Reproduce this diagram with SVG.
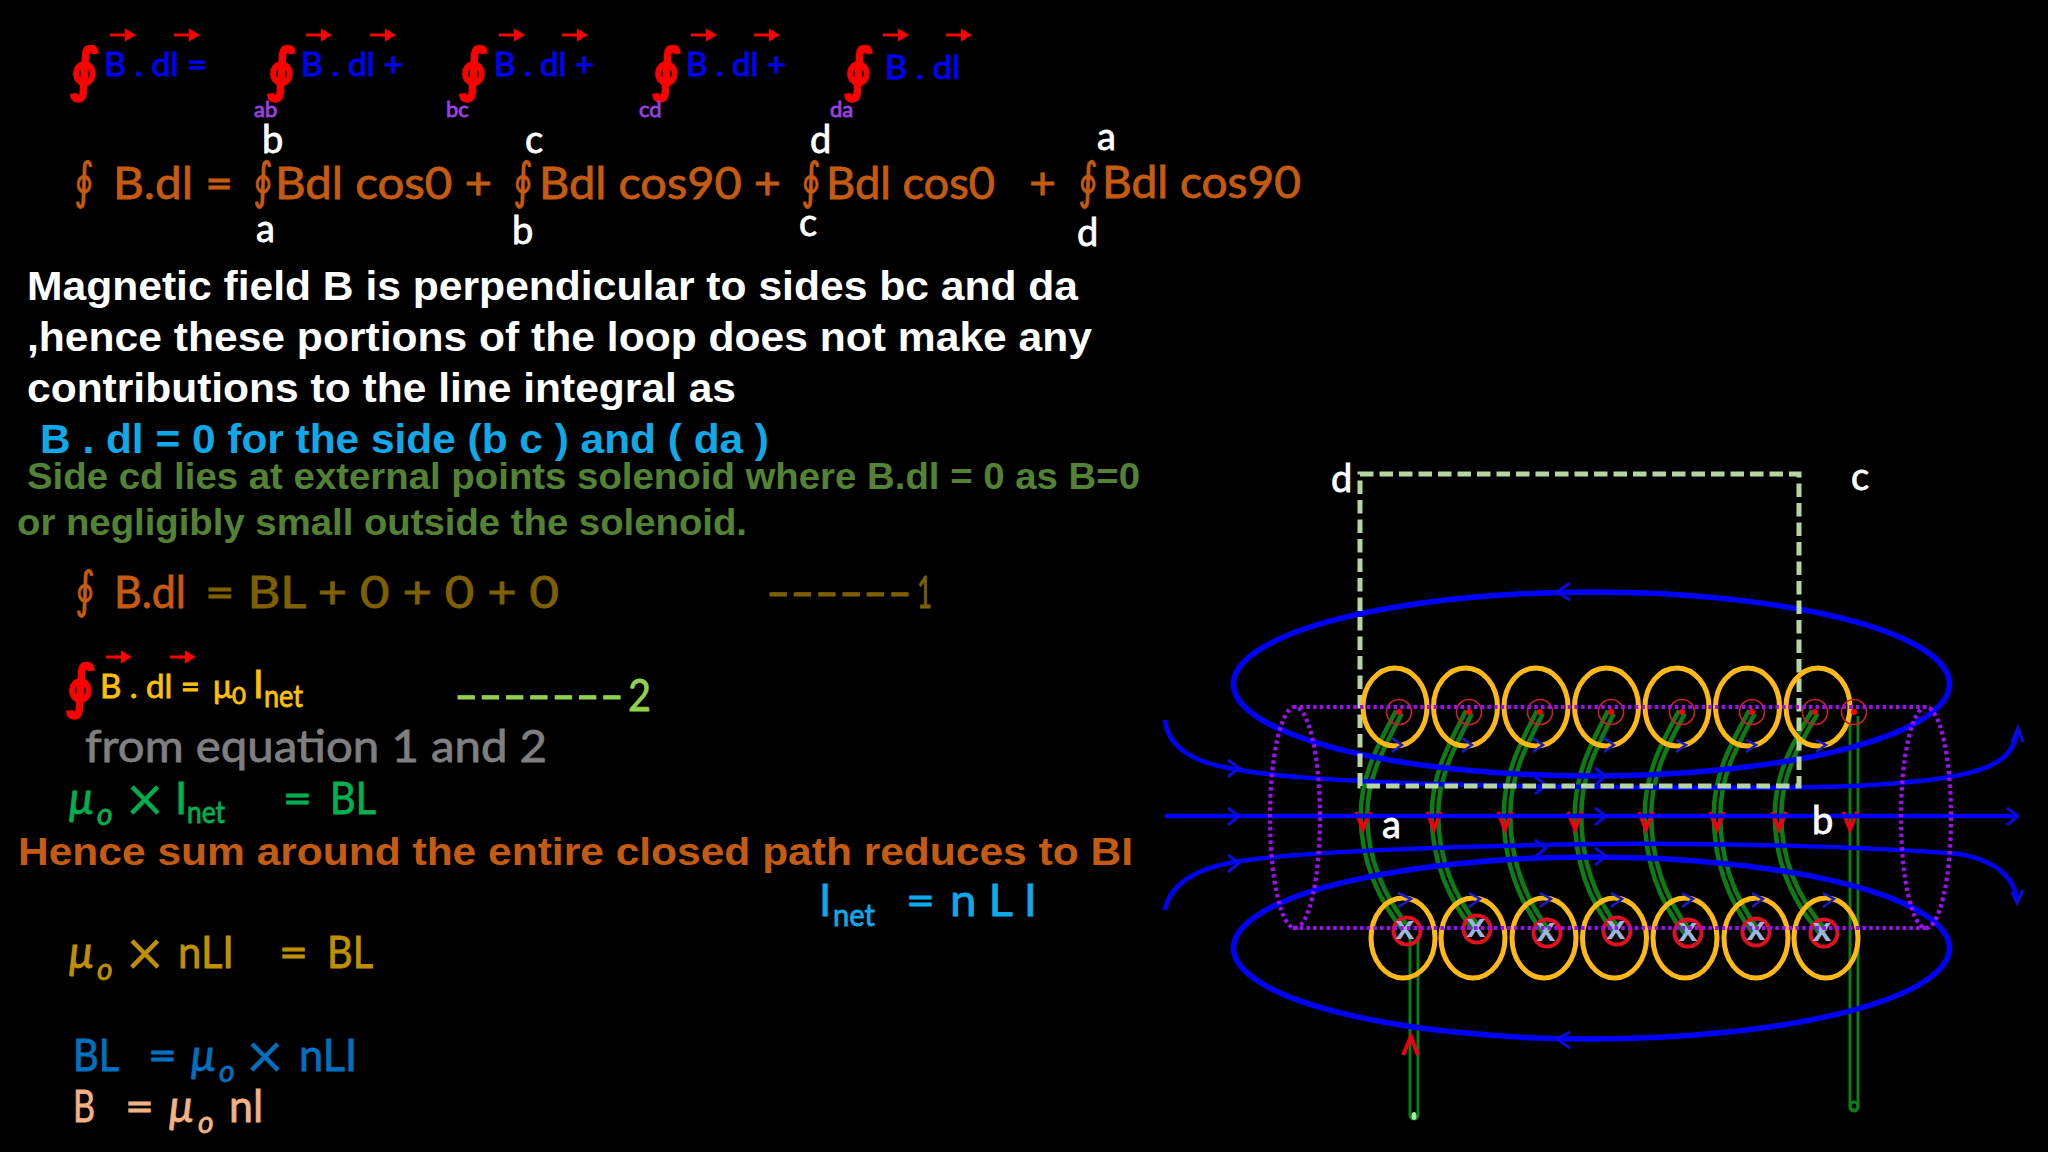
<svg xmlns="http://www.w3.org/2000/svg" width="2048" height="1152" viewBox="0 0 2048 1152">
<style>
text{font-family:"Lato","Noto Sans",sans-serif;stroke-width:.8}
.a{font-family:"Liberation Sans",Arial,sans-serif;font-weight:700;stroke-width:0}
.i{font-family:"DejaVu Sans",sans-serif;font-size:50px;stroke-width:.6}
.ir{font-family:"DejaVu Sans",sans-serif;font-weight:700;font-size:58px;fill:#f00;stroke:#f00;stroke-width:1.2}
.m{font-style:italic}
.w{fill:#fff;stroke:#fff}.bl{fill:#00f;stroke:#00f}.or{fill:#c55a11;stroke:#c55a11}.ol{fill:#7f6000;stroke:#7f6000}
.ye{fill:#ffc000;stroke:#ffc000}.lg{fill:#92d050;stroke:#92d050}.gy{fill:#7f7f7f;stroke:#7f7f7f}.gn{fill:#00b050;stroke:#00b050}
.go{fill:#bf9000;stroke:#bf9000}.db{fill:#0070c0;stroke:#0070c0}.pe{fill:#f4b183;stroke:#f4b183}.cy{fill:#0fa8e8;stroke:#0fa8e8}
.pu{fill:#9b40e0;stroke:#9b40e0;font-size:22px}.sg{fill:#548235}
.s44{font-size:44px}.s38{font-size:38px}.s32{font-size:32px}.s30{font-size:30px}.s65{font-size:65px;stroke-width:0}
.blue{fill:none;stroke:#00f;stroke-width:5.5}
.fl{fill:none;stroke:#00f;stroke-width:4.5}
.chev{fill:none;stroke:#0a0ae6;stroke-width:3}
.chev2{fill:none;stroke:#1a1ad0;stroke-width:2.5}
.dot{fill:none;stroke:#9a10f0;stroke-width:4.2;stroke-dasharray:3.5 3.2}
.yl{fill:none;stroke:#ffb914;stroke-width:5}
.wo{fill:none;stroke:#0b7d14;stroke-width:11}
.wi{fill:none;stroke:#000;stroke-width:2}
.ld{fill:none;stroke:#0b7d14;stroke-width:3}
.rc{fill:none;stroke:#c8202a;stroke-width:1.6}
.rd{fill:#f00}
.xc{fill:none;stroke:#e01020;stroke-width:4}
.x{font-family:"Liberation Sans",sans-serif;font-weight:700;font-size:34px;fill:#9db5dc;text-anchor:middle;stroke-width:0}
.rv{fill:none;stroke:#f00010;stroke-width:4}
</style>
<defs>
<path id="vec" d="M0 -1.6H15V-6.5L26 0L15 6.5V1.6H0Z" fill="#f00"/>
<path id="wire" d="M1399 712C1382 745 1364 775 1364 815C1364 860 1382 900 1407 930"/>
<path id="rv" d="M-7 -5L0 12L7 -5"/>
<path id="cv" d="M-10 -8L1 0L-10 9"/>
</defs>
<rect width="2048" height="1152" fill="#000"/>

<g id="equation-line-integral">
<use href="#vec" x="110" y="35"/><use href="#vec" x="174" y="35"/>
<use href="#vec" x="306" y="35"/><use href="#vec" x="370" y="35"/>
<use href="#vec" x="499" y="35"/><use href="#vec" x="562" y="35"/>
<use href="#vec" x="691" y="35"/><use href="#vec" x="754" y="35"/>
<use href="#vec" x="883" y="35"/><use href="#vec" x="946" y="35"/>
<text class="ir" x="70" y="89" textLength="29" lengthAdjust="spacingAndGlyphs">∮</text>
<text class="bl s32" x="104" y="76" textLength="103" lengthAdjust="spacingAndGlyphs">B . dl =</text>
<text class="ir" x="267" y="89" textLength="29" lengthAdjust="spacingAndGlyphs">∮</text>
<text class="bl s32" x="301" y="76" textLength="102" lengthAdjust="spacingAndGlyphs">B . dl +</text>
<text class="ir" x="459" y="89" textLength="29" lengthAdjust="spacingAndGlyphs">∮</text>
<text class="bl s32" x="494" y="76" textLength="100" lengthAdjust="spacingAndGlyphs">B . dl +</text>
<text class="ir" x="652" y="89" textLength="29" lengthAdjust="spacingAndGlyphs">∮</text>
<text class="bl s32" x="686" y="76" textLength="100" lengthAdjust="spacingAndGlyphs">B . dl +</text>
<text class="ir" x="844" y="89" textLength="29" lengthAdjust="spacingAndGlyphs">∮</text>
<text class="bl s32" x="885" y="79" textLength="75" lengthAdjust="spacingAndGlyphs">B . dl</text>
<text class="pu" x="254" y="117">ab</text><text class="pu" x="446" y="117">bc</text><text class="pu" x="639" y="117">cd</text><text class="pu" x="830" y="117">da</text>
</g>

<g id="equation-expanded">
<text class="w s38" x="262" y="153">b</text><text class="w s38" x="525" y="153">c</text><text class="w s38" x="810" y="153">d</text><text class="w s38" x="1097" y="150">a</text>
<text class="w s38" x="256" y="242">a</text><text class="w s38" x="512" y="244">b</text><text class="w s38" x="799" y="236">c</text><text class="w s38" x="1077" y="246">d</text>
<text class="i or" x="74" y="198" textLength="20" lengthAdjust="spacingAndGlyphs">∮</text>
<text class="or s44" x="113" y="199" textLength="120" lengthAdjust="spacingAndGlyphs">B.dl =</text>
<text class="i or" x="253" y="198" textLength="20" lengthAdjust="spacingAndGlyphs">∮</text>
<text class="or s44" x="275" y="199" textLength="217" lengthAdjust="spacingAndGlyphs">Bdl cos0 +</text>
<text class="i or" x="513" y="198" textLength="20" lengthAdjust="spacingAndGlyphs">∮</text>
<text class="or s44" x="539" y="199" textLength="242" lengthAdjust="spacingAndGlyphs">Bdl cos90 +</text>
<text class="i or" x="801" y="198" textLength="20" lengthAdjust="spacingAndGlyphs">∮</text>
<text class="or s44" x="826" y="199" textLength="169" lengthAdjust="spacingAndGlyphs">Bdl cos0</text>
<text class="or s44" x="1029" y="199" textLength="27" lengthAdjust="spacingAndGlyphs">+</text>
<text class="i or" x="1078" y="198" textLength="20" lengthAdjust="spacingAndGlyphs">∮</text>
<text class="or s44" x="1102" y="198" textLength="199" lengthAdjust="spacingAndGlyphs">Bdl cos90</text>
</g>

<g id="explanation">
<text class="a" x="27" y="300" font-size="40" fill="#fff" textLength="1051" lengthAdjust="spacingAndGlyphs">Magnetic field B is perpendicular to sides bc and da</text>
<text class="a" x="27" y="351" font-size="40" fill="#fff" textLength="1065" lengthAdjust="spacingAndGlyphs">,hence these portions of the loop does not make any</text>
<text class="a" x="27" y="402" font-size="40" fill="#fff" textLength="709" lengthAdjust="spacingAndGlyphs">contributions to the line integral as</text>
<text class="a" x="40" y="453" font-size="40" fill="#0fa8e8" textLength="729" lengthAdjust="spacingAndGlyphs">B . dl = 0 for the side (b c ) and ( da )</text>
<text class="a sg" x="27" y="489" font-size="37" textLength="1113" lengthAdjust="spacingAndGlyphs">Side cd lies at external points solenoid where B.dl = 0 as B=0</text>
<text class="a sg" x="17" y="535" font-size="37" textLength="730" lengthAdjust="spacingAndGlyphs">or negligibly small outside the solenoid.</text>
</g>

<g id="equation-1">
<text class="i or" x="75" y="607" textLength="20" lengthAdjust="spacingAndGlyphs">∮</text>
<text class="or s44" x="114" y="608" textLength="72" lengthAdjust="spacingAndGlyphs">B.dl</text>
<text class="ol s44" x="205" y="608" textLength="354" lengthAdjust="spacingAndGlyphs">= BL + 0 + 0 + 0</text>
<text class="ol s44" x="766" y="608" textLength="146" lengthAdjust="spacingAndGlyphs">------</text>
<text class="ol s44" x="917" y="608" textLength="15" lengthAdjust="spacingAndGlyphs">1</text>
</g>

<g id="equation-2">
<use href="#vec" x="106" y="657"/><use href="#vec" x="170" y="657"/>
<text class="ir" x="66" y="706" textLength="29" lengthAdjust="spacingAndGlyphs">∮</text>
<text class="ye s32" x="100" y="698" textLength="100" lengthAdjust="spacingAndGlyphs">B . dl =</text>
<text class="ye s32" x="213" y="698">μ</text><text class="ye" x="232" y="704" font-size="24">0</text>
<text class="ye" x="253" y="698" font-size="38">I</text><text class="ye" x="264" y="707" font-size="30" textLength="39" lengthAdjust="spacingAndGlyphs">net</text>
<text class="lg s44" x="454" y="711" textLength="170" lengthAdjust="spacingAndGlyphs">-------</text>
<text class="lg s44" x="628" y="711" textLength="23" lengthAdjust="spacingAndGlyphs">2</text>
</g>

<g id="derivation">
<text class="gy s44" x="85" y="762" textLength="462" lengthAdjust="spacingAndGlyphs">from equation 1 and 2</text>

<text class="gn s44 m" x="69" y="814">μ</text><text class="gn s30 m" x="97" y="825">o</text>
<text class="gn s65" x="126" y="822">×</text><text class="gn s44" x="175" y="814">I</text>
<text class="gn s30" x="187" y="823" textLength="38" lengthAdjust="spacingAndGlyphs">net</text>
<text class="gn s44" x="283" y="814" textLength="29" lengthAdjust="spacingAndGlyphs">=</text><text class="gn s44" x="330" y="814" textLength="46" lengthAdjust="spacingAndGlyphs">BL</text>

<text class="a" x="18" y="865" font-size="38" fill="#c55a11" textLength="1115" lengthAdjust="spacingAndGlyphs">Hence sum around the entire closed path reduces to BI</text>

<text class="cy s44" x="819" y="916">I</text><text class="cy s30" x="833" y="926" textLength="42" lengthAdjust="spacingAndGlyphs">net</text>
<text class="cy s44" x="906" y="916" textLength="29" lengthAdjust="spacingAndGlyphs">=</text><text class="cy s44" x="950" y="916" textLength="87" lengthAdjust="spacingAndGlyphs">n L I</text>

<text class="go s44 m" x="69" y="968">μ</text><text class="go s30 m" x="97" y="980">o</text>
<text class="go s65" x="126" y="976">×</text><text class="go s44" x="178" y="968" textLength="56" lengthAdjust="spacingAndGlyphs">nLI</text>
<text class="go s44" x="279" y="968" textLength="29" lengthAdjust="spacingAndGlyphs">=</text><text class="go s44" x="327" y="968" textLength="46" lengthAdjust="spacingAndGlyphs">BL</text>

<text class="db s44" x="73" y="1071" textLength="46" lengthAdjust="spacingAndGlyphs">BL</text>
<text class="db s44" x="148" y="1071" textLength="29" lengthAdjust="spacingAndGlyphs">=</text><text class="db s44 m" x="191" y="1071">μ</text><text class="db s30 m" x="219" y="1082">o</text>
<text class="db s65" x="246" y="1079">×</text><text class="db s44" x="299" y="1071" textLength="58" lengthAdjust="spacingAndGlyphs">nLI</text>

<text class="pe s44" x="73" y="1122" textLength="22" lengthAdjust="spacingAndGlyphs">B</text>
<text class="pe s44" x="125" y="1122" textLength="29" lengthAdjust="spacingAndGlyphs">=</text><text class="pe s44 m" x="169" y="1122">μ</text><text class="pe s30 m" x="198" y="1133">o</text>
<text class="pe s44" x="229" y="1122" textLength="34" lengthAdjust="spacingAndGlyphs">nl</text>
</g>

<g id="solenoid">
<g id="wires">
<g class="wo">
<use href="#wire"/>
<path d="M1469 712C1452 745 1435 775 1435 815C1435 860 1452 900 1477 929"/>
<path d="M1540 712C1523 745 1507 775 1507 815C1507 860 1522 900 1547 933"/>
<path d="M1611 712C1594 745 1578 775 1578 815C1578 860 1592 900 1617 931"/>
<path d="M1682 712C1664 745 1648 775 1648 815C1648 860 1662 900 1688 933"/>
<path d="M1752 712C1734 745 1717 775 1717 815C1717 860 1732 900 1756 932"/>
<path d="M1815 712C1795 745 1778 775 1778 815C1778 860 1795 900 1824 933"/>
</g>
<g class="wi">
<use href="#wire"/>
<path d="M1469 712C1452 745 1435 775 1435 815C1435 860 1452 900 1477 929"/>
<path d="M1540 712C1523 745 1507 775 1507 815C1507 860 1522 900 1547 933"/>
<path d="M1611 712C1594 745 1578 775 1578 815C1578 860 1592 900 1617 931"/>
<path d="M1682 712C1664 745 1648 775 1648 815C1648 860 1662 900 1688 933"/>
<path d="M1752 712C1734 745 1717 775 1717 815C1717 860 1732 900 1756 932"/>
<path d="M1815 712C1795 745 1778 775 1778 815C1778 860 1795 900 1824 933"/>
</g>
<path class="ld" d="M1410 936V1115a4 4 0 0 0 8 0V936"/>
<path class="ld" d="M1850 716V1107a4 4 0 0 0 8 0V716"/>
<ellipse cx="1414" cy="1116" rx="2.5" ry="4" fill="#a5e8a5"/>
<circle cx="1854" cy="1106" r="4" class="ld"/>
</g>
<g id="current-arrows" class="rv">
<use href="#rv" x="1363" y="817"/><use href="#rv" x="1434" y="817"/><use href="#rv" x="1505" y="817"/><use href="#rv" x="1575" y="817"/>
<use href="#rv" x="1646" y="817"/><use href="#rv" x="1717" y="817"/><use href="#rv" x="1779" y="817"/><use href="#rv" x="1850" y="817"/>
<path d="M1403 1055L1411 1037L1418 1055"/>
</g>
<g id="field-lines">
<ellipse class="blue" cx="1591.5" cy="684" rx="358" ry="92"/>
<ellipse class="blue" cx="1591.5" cy="948" rx="358" ry="91"/>
<path class="fl" d="M1165 816H2015"/>
<path class="fl" d="M1165 720C1168 748 1195 764 1240 770C1300 781 1450 786 1600 787C1720 788 1840 790 1920 781C1975 775 2014 765 2017 732"/>
<path class="fl" d="M1165 910C1170 885 1195 868 1240 861C1300 852 1450 846 1600 844C1720 843 1860 846 1960 854C1990 860 2012 872 2017 898"/>
</g>
<g id="field-arrows" class="chev">
<use href="#cv" x="1238" y="768"/><use href="#cv" x="1238" y="816"/><use href="#cv" x="1238" y="863"/>
<use href="#cv" x="1605" y="776"/><use href="#cv" x="1605" y="816"/><use href="#cv" x="1605" y="856"/>
<use href="#cv" x="1545" y="785"/><use href="#cv" x="1545" y="848"/>
<use href="#cv" x="2017" y="816"/>
<path d="M2012 742L2018 728L2023 742"/>
<path d="M2012 892L2017 903L2023 890"/>
<path d="M1570 583L1557 592L1570 600"/>
<path d="M1570 1032L1557 1039L1570 1048"/>
</g>
<path id="amperian-loop" d="M1360 474H1799V786H1360Z" fill="none" stroke="#b5d6a0" stroke-width="5" stroke-dasharray="13.5 6"/>
<g id="coil-top">
<ellipse class="yl" cx="1395" cy="707" rx="32" ry="39"/><ellipse class="yl" cx="1465.5" cy="707" rx="32" ry="39"/><ellipse class="yl" cx="1536" cy="707" rx="32" ry="39"/><ellipse class="yl" cx="1606.5" cy="707" rx="32" ry="39"/><ellipse class="yl" cx="1677" cy="707" rx="32" ry="39"/><ellipse class="yl" cx="1747.5" cy="707" rx="32" ry="39"/><ellipse class="yl" cx="1818" cy="707" rx="32" ry="39"/>
<circle class="rc" cx="1399" cy="712" r="12.5"/><circle class="rc" cx="1469" cy="712" r="12.5"/><circle class="rc" cx="1540" cy="712" r="12.5"/><circle class="rc" cx="1611" cy="712" r="12.5"/><circle class="rc" cx="1682" cy="712" r="12.5"/><circle class="rc" cx="1752" cy="712" r="12.5"/><circle class="rc" cx="1815" cy="712" r="12.5"/><circle class="rc" cx="1854" cy="712" r="12.5"/>
<circle class="rd" cx="1399" cy="712" r="3"/><circle class="rd" cx="1469" cy="712" r="3"/><circle class="rd" cx="1540" cy="712" r="3"/><circle class="rd" cx="1611" cy="712" r="3"/><circle class="rd" cx="1682" cy="712" r="3"/><circle class="rd" cx="1752" cy="712" r="3"/><circle class="rd" cx="1815" cy="712" r="3"/><circle class="rd" cx="1854" cy="712" r="3"/>
<g class="chev2">
<path d="M1392 738L1402 745L1392 752"/><path d="M1462 738L1472 745L1462 752"/><path d="M1533 738L1543 745L1533 752"/><path d="M1604 738L1614 745L1604 752"/><path d="M1676 740L1686 745L1676 752"/><path d="M1746 740L1756 745L1746 752"/><path d="M1816 740L1826 745L1816 752"/>
</g>
</g>
<g id="coil-bottom">
<ellipse class="yl" cx="1403" cy="938" rx="32" ry="40"/><ellipse class="yl" cx="1473" cy="938" rx="32" ry="40"/><ellipse class="yl" cx="1544" cy="938" rx="32" ry="40"/><ellipse class="yl" cx="1614.5" cy="938" rx="32" ry="40"/><ellipse class="yl" cx="1685" cy="938" rx="32" ry="40"/><ellipse class="yl" cx="1756" cy="938" rx="32" ry="40"/><ellipse class="yl" cx="1826" cy="938" rx="32" ry="40"/>
<g class="chev2">
<path d="M1398 893L1411 899L1398 907"/><path d="M1469 893L1480 899L1469 907"/><path d="M1540 893L1551 899L1540 907"/><path d="M1611 893L1622 899L1611 907"/><path d="M1682 893L1693 899L1682 907"/><path d="M1752 893L1763 899L1752 907"/><path d="M1823 893L1834 899L1823 907"/>
</g>
<circle class="xc" cx="1407" cy="931" r="13.5"/><circle class="xc" cx="1477" cy="929" r="13.5"/><circle class="xc" cx="1547" cy="933" r="13.5"/><circle class="xc" cx="1617" cy="931" r="13.5"/><circle class="xc" cx="1688" cy="933" r="13.5"/><circle class="xc" cx="1756" cy="932" r="13.5"/><circle class="xc" cx="1824" cy="933" r="13.5"/>
<text class="x" x="1405" y="939">x</text><text class="x" x="1476" y="937">x</text><text class="x" x="1546" y="941">x</text><text class="x" x="1616" y="939">x</text><text class="x" x="1688" y="941">x</text><text class="x" x="1756" y="940">x</text><text class="x" x="1822" y="941">x</text>
</g>
<g id="solenoid-outline" class="dot">
<path d="M1293 707H1930"/><path d="M1293 928H1930"/>
<ellipse cx="1295" cy="817.5" rx="25" ry="110.5"/><ellipse cx="1926" cy="817.5" rx="25" ry="110.5"/>
</g>
<g id="corner-labels">
<text class="w s38" x="1331" y="492">d</text><text class="w s38" x="1851" y="490">c</text><text class="w s38" x="1382" y="838">a</text><text class="w s38" x="1812" y="834">b</text>
</g>
</g>
</svg>
